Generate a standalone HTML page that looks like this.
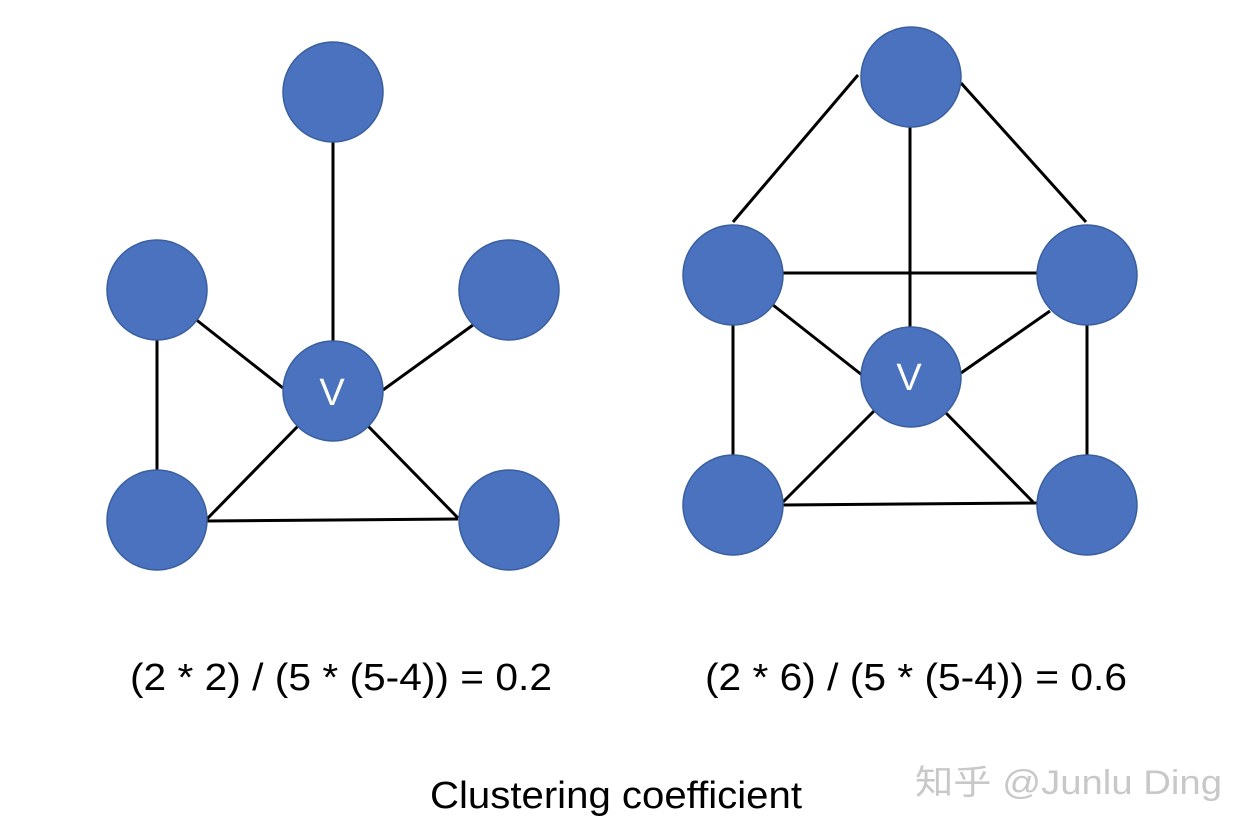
<!DOCTYPE html>
<html><head><meta charset="utf-8"><style>
html,body{margin:0;padding:0;background:#fff;}
svg{display:block}
</style></head><body>
<svg width="1252" height="836" viewBox="0 0 1252 836" xmlns="http://www.w3.org/2000/svg">
<g stroke="#000" stroke-width="3" fill="none">
<line x1="333" y1="140" x2="333" y2="342"/>
<line x1="194" y1="318" x2="283" y2="388"/>
<line x1="473" y1="325" x2="383" y2="390"/>
<line x1="298" y1="426" x2="206" y2="520"/>
<line x1="368" y1="426" x2="458" y2="518"/>
<line x1="206" y1="521" x2="458" y2="519"/>
<line x1="157" y1="313" x2="157" y2="470"/>

<line x1="858" y1="75" x2="733" y2="222"/>
<line x1="961" y1="83" x2="1086" y2="222"/>
<line x1="910" y1="127" x2="910" y2="327"/>
<line x1="783" y1="273" x2="1037" y2="273"/>
<line x1="773" y1="305" x2="862" y2="375"/>
<line x1="1050" y1="311" x2="961" y2="373"/>
<line x1="875" y1="410" x2="783" y2="502"/>
<line x1="945" y1="412" x2="1033" y2="502"/>
<line x1="783" y1="505" x2="1037" y2="503"/>
<line x1="733" y1="325" x2="733" y2="455"/>
<line x1="1087" y1="325" x2="1087" y2="455"/>
</g>
<g fill="#4A72BE" stroke="#3A5F9F" stroke-width="1.5">
<circle cx="333" cy="92" r="50"/>
<circle cx="157" cy="290" r="50"/>
<circle cx="509" cy="290" r="50"/>
<circle cx="333" cy="391" r="50"/>
<circle cx="157" cy="520" r="50"/>
<circle cx="509" cy="520" r="50"/>
<circle cx="911" cy="77" r="50"/>
<circle cx="733" cy="275" r="50"/>
<circle cx="1087" cy="275" r="50"/>
<circle cx="911" cy="377" r="50"/>
<circle cx="733" cy="505" r="50"/>
<circle cx="1087" cy="505" r="50"/>
</g>
<g font-family="Liberation Sans, sans-serif" fill="#fff" font-size="38" text-anchor="middle">
<text x="332" y="405">V</text>
<text x="909" y="390">V</text>
</g>
<g font-family="Liberation Sans, sans-serif" fill="#000" font-size="38">
<text x="130" y="690" textLength="422" lengthAdjust="spacingAndGlyphs">(2 * 2) / (5 * (5-4)) = 0.2</text>
<text x="705" y="690" textLength="422" lengthAdjust="spacingAndGlyphs">(2 * 6) / (5 * (5-4)) = 0.6</text>
<text x="430" y="808" textLength="372" lengthAdjust="spacingAndGlyphs">Clustering coefficient</text>
</g>
<text x="915" y="794" font-family="Liberation Sans, Noto Sans CJK SC, sans-serif" font-size="34" fill="#c8c8c8" textLength="307" lengthAdjust="spacingAndGlyphs">知乎 @Junlu Ding</text>
</svg>
</body></html>
